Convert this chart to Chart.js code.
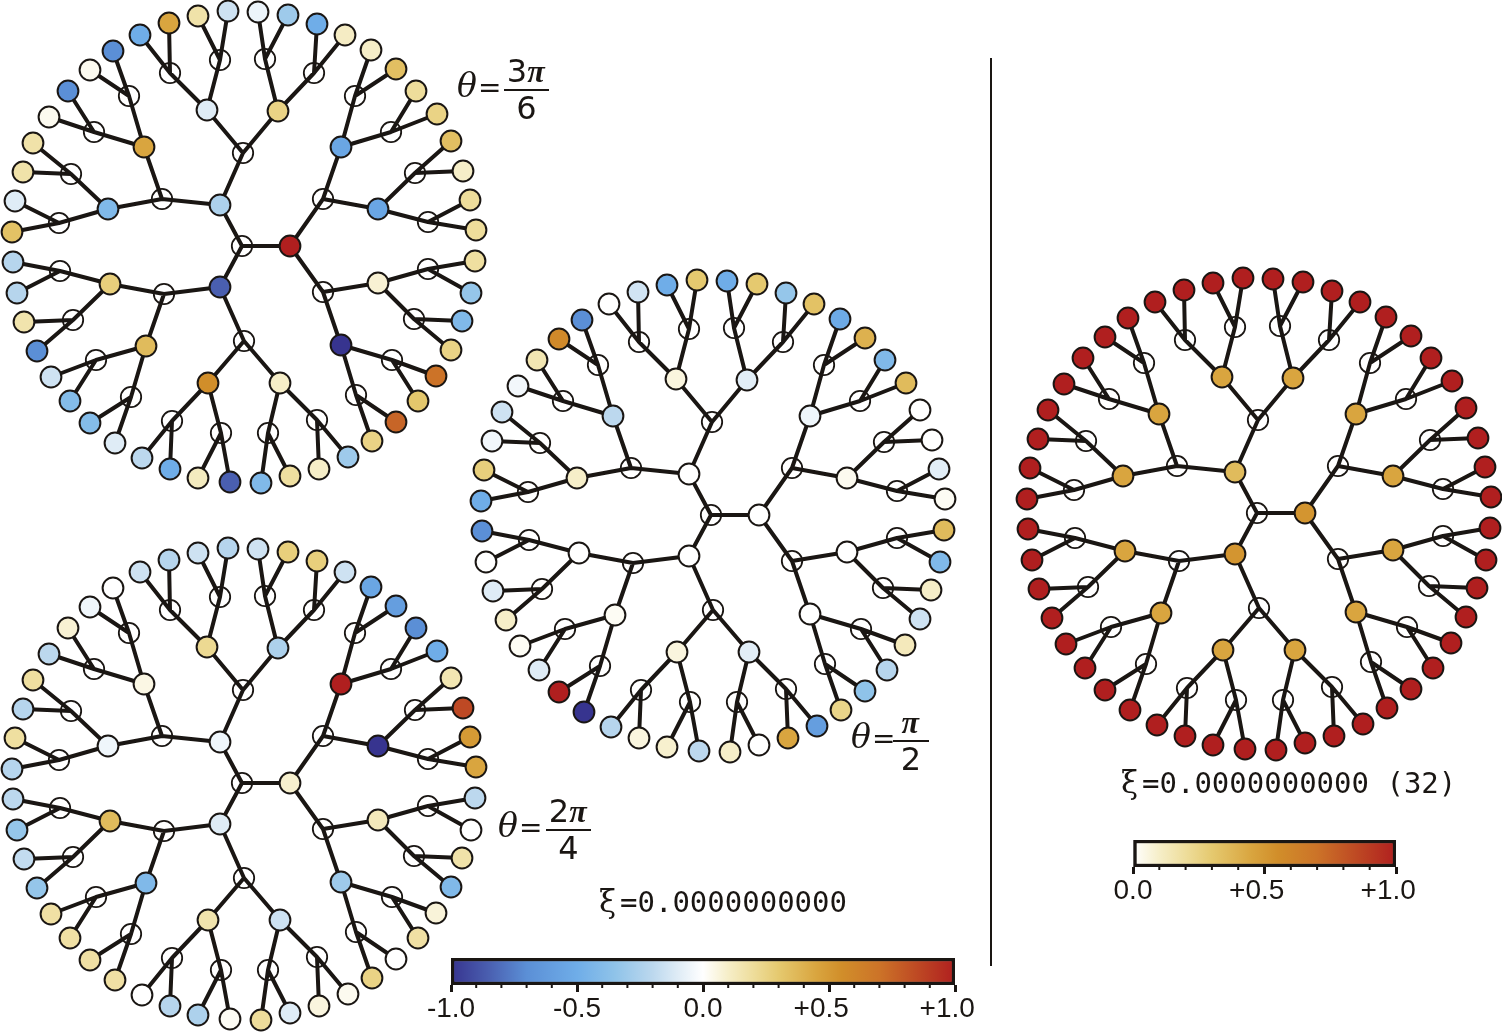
<!DOCTYPE html>
<html>
<head>
<meta charset="utf-8">
<script src="https://cdn.jsdelivr.net/npm/chart.js@4"></script>
<style>
  html, body { margin: 0; padding: 0; background: #fff; }
  canvas { position: absolute; display: block; }
</style>
</head>
<body>
<canvas id="trees" width="1502" height="1032" style="left:0;top:0"></canvas>
<canvas id="barFull" width="604" height="82" style="left:401px;top:950px"></canvas>
<canvas id="barPositive" width="363" height="82" style="left:1083px;top:832px"></canvas>
<script>
// tree shape, clockwise from the left
const centerNode = [242, 246];
const level1 = [[220,205],[290,246],[220,287]];
const level2 = [[162,199],[243,153],[323,199],[323,292],[244,341],[164,294]];
const level3 = [[108,209],[144,147],[207,110],[278,111],[341,147],[378,209],
                [378,283],[341,345],[280,383],[208,383],[146,346],[110,284]];
const level4 = [[59,223],[71,174],[94,132],[129,96],[170,73],[220,60],[265,59],[314,73],
                [355,96],[391,132],[415,173],[428,222],[428,269],[414,319],[392,360],[356,395],
                [317,420],[268,433],[221,433],[172,421],[131,397],[96,360],[73,320],[60,271]];
const leaves = [[12,232],[15,201],[23,172],[33,143],[49,117],[68,91],[90,70],[113,51],
                [140,35],[169,23],[198,16],[228,11],[258,12],[288,15],[317,24],[345,35],
                [371,50],[396,69],[416,91],[437,114],[451,141],[463,171],[470,200],[476,230],
                [475,261],[471,293],[462,321],[451,350],[436,376],[418,401],[396,422],[372,441],
                [348,457],[319,469],[290,476],[261,483],[230,482],[198,478],[170,469],[142,458],
                [115,443],[90,423],[70,401],[51,377],[37,351],[24,322],[17,293],[13,262]];

// where each copy of the tree sits
const treeShiftX = [0, 469, 0, 1015];
const treeShiftY = [0, 269, 537, 267];

// node values, same order as the shape lists
const tree1Level1 = [-0.25, 1.0, -0.85];
const tree1Level3 = [-0.42, 0.45, -0.1, 0.25, -0.55, -0.55, 0.08, -1.0, 0.1, 0.55, 0.36, 0.27];
const tree1Leaves = [0.33,-0.1,0.17,0.17,0.03,-0.7,0.03,-0.7,-0.5,0.45,0.17,-0.15,
                     -0.06,-0.3,-0.5,0.11,0.1,0.34,0.2,0.25,0.34,0.1,0.2,0.2,
                     0.19,-0.33,-0.42,0.25,0.7,0.31,0.75,0.25,-0.3,0.1,0.19,-0.42,
                     -0.85,0.12,-0.5,-0.2,-0.1,-0.4,-0.4,-0.15,-0.7,0.16,-0.22,-0.22];

const tree2Level1 = [0, 0, 0];
const tree2Level3 = [0.1, -0.2, 0.06, -0.09, -0.05, 0.03, 0, 0, -0.09, 0.06, 0.02, 0];
const tree2Leaves = [-0.5,0.27,-0.04,-0.15,-0.04,0.15,0.58,-0.7,0,-0.14,-0.5,0.3,
                     -0.5,0.3,-0.33,0.33,-0.52,0.4,-0.42,0.36,0,0,-0.09,0.02,
                     0.36,-0.42,0.1,-0.15,0.13,-0.22,-0.35,0.24,-0.6,0.45,0,0.1,
                     -0.2,0.09,0.06,-0.22,-1.0,1.0,-0.1,0.02,0.1,-0.1,0,-0.7];

const tree3Level1 = [-0.05, 0.09, -0.1];
const tree3Level3 = [-0.05, 0.05, 0.22, -0.25, 1.0, -1.0, 0.13, -0.3, -0.15, 0.16, -0.42, 0.36];
const tree3Leaves = [-0.22,0.19,-0.22,0.19,-0.2,0.08,-0.05,0,-0.15,-0.22,-0.15,-0.22,
                     -0.15,0.27,0.27,-0.15,-0.55,-0.6,-0.7,-0.5,0.15,0.85,0.5,0.45,
                     -0.2,0,0.17,-0.42,0.07,0.18,0,0.25,0.03,0.06,-0.1,0.2,
                     0.02,-0.25,-0.22,0,0.18,0.18,0.18,0.18,-0.33,-0.18,-0.33,-0.2];

const tree4Level1 = [0.36, 0.52, 0.52];
const tree4Level3 = [0.45,0.45,0.45,0.45,0.45,0.45,0.45,0.45,0.45,0.45,0.45,0.45];
const tree4Leaves = [1,1,1,1,1,1,1,1,1,1,1,1,1,1,1,1,1,1,1,1,1,1,1,1,
                     1,1,1,1,1,1,1,1,1,1,1,1,1,1,1,1,1,1,1,1,1,1,1,1];

const valuesLevel1 = [tree1Level1, tree2Level1, tree3Level1, tree4Level1];
const valuesLevel3 = [tree1Level3, tree2Level3, tree3Level3, tree4Level3];
const valuesLeaves = [tree1Leaves, tree2Leaves, tree3Leaves, tree4Leaves];

// colour scale
const scaleValues = [-1, -0.85, -0.7, -0.5, -0.35, -0.2, -0.1, 0, 0.1, 0.2, 0.3, 0.45, 0.55, 0.7, 1];
const scaleColors = ['#37348f','#4a5fb0','#5b8fd6','#6fade8','#8fc3e9','#bcd8ee','#dfecf6','#ffffff',
                     '#f6eec8','#eedd9b','#e5c96f','#d9a53f','#d18e2a','#cc7328','#b01f1f'];

const fullTicks = [-1, -0.5, 0, 0.5, 1];
const fullMinorTicks = [-0.9,-0.8,-0.7,-0.6,-0.4,-0.3,-0.2,-0.1,0.1,0.2,0.3,0.4,0.6,0.7,0.8,0.9];
const positiveTicks = [0, 0.5, 1];
const positiveMinorTicks = [0.1,0.2,0.3,0.4,0.6,0.7,0.8,0.9];

const inkColor = '#1a1613';

function hexToRgb(hex) {
  return [1, 3, 5].map(i => parseInt(hex.slice(i, i + 2), 16));
}

function colorFor(v) {
  for (let i = 1; i < scaleValues.length; i++) {
    if (v <= scaleValues[i]) {
      const t = (v - scaleValues[i - 1]) / (scaleValues[i] - scaleValues[i - 1]);
      const a = hexToRgb(scaleColors[i - 1]);
      const b = hexToRgb(scaleColors[i]);
      const c = a.map((ch, k) => Math.round(ch + (b[k] - ch) * t));
      return 'rgb(' + c.join(',') + ')';
    }
  }
  return scaleColors[scaleColors.length - 1];
}

function shifted(p, t) {
  return { x: p[0] + treeShiftX[t], y: p[1] + treeShiftY[t] };
}

// every node has two children, index i goes to 2i and 2i+1 of the next level
function edgePoints(t) {
  const pts = [];
  const gap = { x: null, y: null };
  level1.forEach(p => pts.push(shifted(centerNode, t), shifted(p, t), gap));
  const levels = [level1, level2, level3, level4, leaves];
  for (let l = 0; l < levels.length - 1; l++) {
    levels[l].forEach((p, i) => {
      pts.push(shifted(p, t), shifted(levels[l + 1][2 * i], t), gap);
      pts.push(shifted(p, t), shifted(levels[l + 1][2 * i + 1], t), gap);
    });
  }
  return pts;
}

const datasets = [];
treeShiftX.forEach((_, t) => {
  datasets.push({
    data: [centerNode].concat(level2, level4).map(p => shifted(p, t)),
    pointRadius: 10.2,
    pointBackgroundColor: 'rgba(255,255,255,0)',
    pointBorderColor: inkColor,
    pointBorderWidth: 1.8,
    order: 3
  });
  datasets.push({
    data: edgePoints(t),
    showLine: true,
    spanGaps: false,
    borderColor: inkColor,
    borderWidth: 4,
    borderCapStyle: 'round',
    pointRadius: 0,
    order: 2
  });
  const colored = level1.concat(level3, leaves);
  const vals = valuesLevel1[t].concat(valuesLevel3[t], valuesLeaves[t]);
  datasets.push({
    data: colored.map(p => shifted(p, t)),
    pointRadius: 10.4,
    pointBackgroundColor: vals.map(colorFor),
    pointBorderColor: inkColor,
    pointBorderWidth: 2,
    order: 1
  });
});

// the vertical rule between the two panels
datasets.push({
  data: [{ x: 991, y: 58 }, { x: 991, y: 966 }],
  showLine: true,
  borderColor: inkColor,
  borderWidth: 2,
  pointRadius: 0,
  order: 4
});

const thetaLabels = [
  { x: 457, y: 90, top: '3', bottom: '6', ruleFrom: 504, ruleTo: 549 },
  { x: 851, y: 741, top: '', bottom: '2', ruleFrom: 893, ruleTo: 929 },
  { x: 498, y: 830, top: '2', bottom: '4', ruleFrom: 546, ruleTo: 591 }
];
const xiLabels = [
  { x: 599, y: 904, text: '=0.0000000000' },
  { x: 1121, y: 785, text: '=0.0000000000 (32)' }
];

const textPlugin = {
  id: 'treeText',
  afterDraw(chart) {
    const ctx = chart.ctx;
    const sx = chart.scales.x, sy = chart.scales.y;
    ctx.save();
    ctx.fillStyle = inkColor;
    ctx.strokeStyle = inkColor;
    ctx.textBaseline = 'middle';
    thetaLabels.forEach(l => {
      const x = sx.getPixelForValue(l.x), y = sy.getPixelForValue(l.y);
      const a = sx.getPixelForValue(l.ruleFrom), b = sx.getPixelForValue(l.ruleTo);
      ctx.textAlign = 'left';
      ctx.font = 'italic 33px "DejaVu Serif"';
      ctx.fillText('\u03b8', x, y - 2);
      ctx.font = '28px "DejaVu Sans"';
      ctx.fillText('=', x + 21, y);
      // digit upright, pi italic, together centred over the rule
      ctx.font = '32px "DejaVu Sans"';
      const digitWidth = ctx.measureText(l.top).width;
      ctx.fillText(l.top, (a + b) / 2 - (digitWidth + 19) / 2, y - 16);
      ctx.font = 'italic bold 32px "Liberation Serif"';
      ctx.fillText('\u03c0', (a + b) / 2 - (digitWidth + 19) / 2 + digitWidth, y - 16);
      ctx.textAlign = 'center';
      ctx.font = '32px "DejaVu Sans"';
      ctx.fillText(l.bottom, (a + b) / 2, y + 21);
      ctx.lineWidth = 2;
      ctx.beginPath();
      ctx.moveTo(a, y);
      ctx.lineTo(b, y);
      ctx.stroke();
    });
    xiLabels.forEach(l => {
      const x = sx.getPixelForValue(l.x), y = sy.getPixelForValue(l.y);
      ctx.textAlign = 'left';
      ctx.font = '31px "DejaVu Serif"';
      ctx.fillText('\u03be', x, y);
      ctx.font = '29px "DejaVu Sans Mono"';
      ctx.fillText(l.text, x + 21, y);
    });
    ctx.restore();
  }
};

new Chart(document.getElementById('trees'), {
  type: 'scatter',
  data: { datasets: datasets },
  plugins: [textPlugin],
  options: {
    responsive: false,
    animation: false,
    events: [],
    layout: { padding: 0, autoPadding: false },
    plugins: { legend: { display: false }, tooltip: { enabled: false } },
    scales: {
      x: { type: 'linear', min: 0, max: 1502, display: false },
      y: { type: 'linear', min: 0, max: 1032, reverse: true, display: false }
    }
  }
});

// the plus labels sit a little left of their ticks in the original
function tickText(v) {
  if (v === 0) return '0.0';
  return v > 0 ? '+' + v.toFixed(1) + '  ' : v.toFixed(1);
}

function colorbar(id, from, to, ticks, minorTicks) {
  const minorPlugin = {
    id: 'minorTicks',
    afterDraw(chart) {
      const ctx = chart.ctx, sx = chart.scales.x, bottom = chart.chartArea.bottom;
      ctx.save();
      ctx.fillStyle = inkColor;
      minorTicks.forEach(v => ctx.fillRect(sx.getPixelForValue(v) - 1, bottom, 2, 3));
      ctx.restore();
    }
  };
  new Chart(document.getElementById(id), {
    type: 'bar',
    data: {
      labels: [''],
      datasets: [{
        data: [[from, to]],
        backgroundColor(c) {
          const a = c.chart.chartArea;
          if (!a) return '#fff';
          const g = c.chart.ctx.createLinearGradient(a.left, 0, a.right, 0);
          scaleValues.forEach((v, i) => {
            if (v >= from && v <= to) g.addColorStop((v - from) / (to - from), scaleColors[i]);
          });
          return g;
        },
        borderColor: inkColor,
        borderWidth: 3.5,
        borderSkipped: false,
        barPercentage: 1,
        categoryPercentage: 1
      }]
    },
    plugins: [minorPlugin],
    options: {
      indexAxis: 'y',
      responsive: false,
      animation: false,
      events: [],
      layout: { padding: { left: 50, right: 50, top: 8, bottom: 0 } },
      plugins: { legend: { display: false }, tooltip: { enabled: false } },
      scales: {
        y: { display: false },
        x: {
          type: 'linear',
          min: from,
          max: to,
          afterBuildTicks(scale) { scale.ticks = ticks.map(v => ({ value: v })); },
          afterFit(scale) { scale.height = 47; },
          grid: { drawOnChartArea: false, color: inkColor, tickColor: inkColor, tickWidth: 3, tickLength: 7 },
          border: { display: false },
          ticks: {
            autoSkip: false,
            maxRotation: 0,
            padding: 0,
            color: inkColor,
            font: { family: '"Liberation Sans"', size: 28 },
            callback: tickText
          }
        }
      }
    }
  });
}

colorbar('barFull', -1, 1, fullTicks, fullMinorTicks);
colorbar('barPositive', 0, 1, positiveTicks, positiveMinorTicks);
</script>
</body>
</html>
